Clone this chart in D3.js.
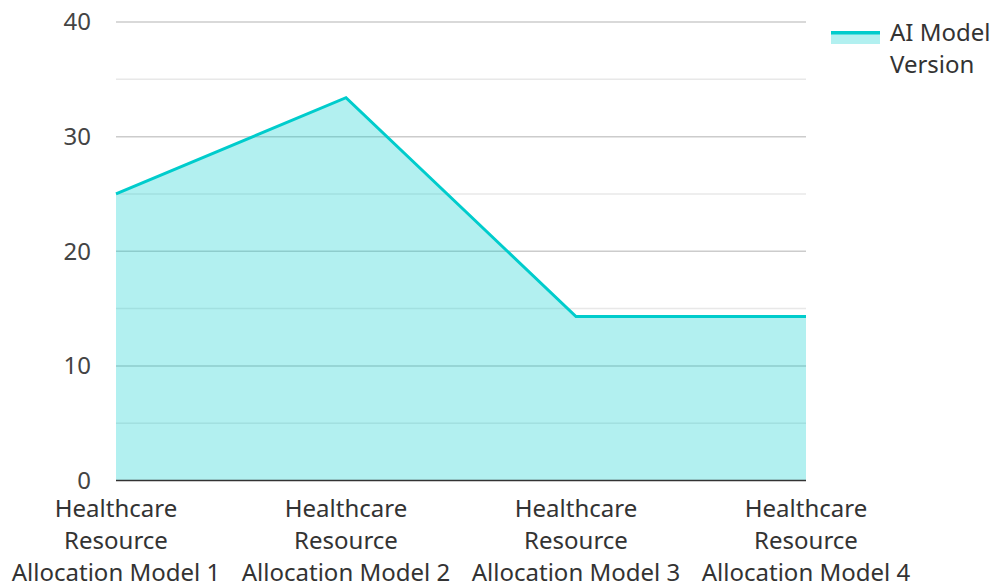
<!DOCTYPE html>
<html>
<head>
<meta charset="utf-8">
<script src="https://cdn.jsdelivr.net/npm/d3@7"></script>
<style>
  body { margin: 0; background: #fff; }
  text { font-family: "Noto Sans", "Open Sans", sans-serif; }
</style>
</head>
<body>
<script>
// data
const categories = [
  'Healthcare Resource Allocation Model 1',
  'Healthcare Resource Allocation Model 2',
  'Healthcare Resource Allocation Model 3',
  'Healthcare Resource Allocation Model 4'
];
const seriesName = 'AI Model Version';
const values = [25, 33.4, 14.3, 14.3];
const yTicks = [0, 10, 20, 30, 40];
const yGrid = [5, 10, 15, 20, 25, 30, 35, 40];

const width = 994, height = 583;
const plotLeft = 116, plotRight = 806, plotTop = 22, plotBottom = 480.5;
const teal = '#00cccc';

const svg = d3.select('body').append('svg')
  .attr('width', width)
  .attr('height', height);

const x = d3.scalePoint().domain(categories).range([plotLeft, plotRight]).padding(0);
const y = d3.scaleLinear().domain([0, 40]).range([plotBottom, plotTop]);

// grid lines (major every 10, minor in between)
svg.append('g').selectAll('line')
  .data(yGrid)
  .enter().append('line')
  .attr('x1', plotLeft).attr('x2', plotRight)
  .attr('y1', d => y(d)).attr('y2', d => y(d))
  .attr('stroke', d => d % 10 === 0 ? '#cccccc' : '#e8e8e8')
  .attr('stroke-width', 1.5);

const pts = categories.map((c, i) => ({ c: c, v: values[i] }));

// filled area + line
svg.append('path')
  .datum(pts)
  .attr('fill', teal)
  .attr('fill-opacity', 0.3)
  .attr('d', d3.area().x(d => x(d.c)).y0(y(0)).y1(d => y(d.v)));

svg.append('path')
  .datum(pts)
  .attr('fill', 'none')
  .attr('stroke', teal)
  .attr('stroke-width', 3)
  .attr('d', d3.line().x(d => x(d.c)).y(d => y(d.v)));

// y axis labels
svg.append('g').selectAll('text')
  .data(yTicks)
  .enter().append('text')
  .attr('x', 91)
  .attr('y', d => y(d))
  .attr('dy', '0.35em')
  .attr('text-anchor', 'end')
  .attr('font-size', 24)
  .attr('fill', '#444')
  .text(d => d);

// baseline
svg.append('line')
  .attr('x1', plotLeft).attr('x2', plotRight)
  .attr('y1', y(0)).attr('y2', y(0))
  .attr('stroke', '#333')
  .attr('stroke-width', 1.5);

// x labels, wrapped
function wrap(label, maxW) {
  const words = label.split(' ');
  const lines = [];
  let cur = '';
  const tmp = svg.append('text').attr('font-size', 24);
  words.forEach(w => {
    const test = cur ? cur + ' ' + w : w;
    tmp.text(test);
    if (tmp.node().getComputedTextLength() > maxW && cur) {
      lines.push(cur);
      cur = w;
    } else {
      cur = test;
    }
  });
  lines.push(cur);
  tmp.remove();
  return lines;
}

const xl = svg.append('g').selectAll('text')
  .data(categories)
  .enter().append('text')
  .attr('text-anchor', 'middle')
  .attr('font-size', 24)
  .attr('fill', '#333');

xl.each(function(d) {
  const t = d3.select(this);
  wrap(d, 220).forEach((ln, i) => {
    t.append('tspan')
      .attr('x', x(d))
      .attr('y', 517 + i * 32)
      .text(ln);
  });
});

// legend
const lg = svg.append('g');
lg.append('rect')
  .attr('x', 831).attr('y', 31)
  .attr('width', 49).attr('height', 13)
  .attr('fill', teal).attr('fill-opacity', 0.3);
lg.append('rect')
  .attr('x', 831).attr('y', 31)
  .attr('width', 49).attr('height', 3.5)
  .attr('fill', teal);
const lt = lg.append('text')
  .attr('font-size', 24)
  .attr('fill', '#333');
['AI Model', 'Version'].forEach((s, i) => {
  lt.append('tspan').attr('x', 890).attr('y', 41 + i * 32).text(s);
});
</script>
</body>
</html>
